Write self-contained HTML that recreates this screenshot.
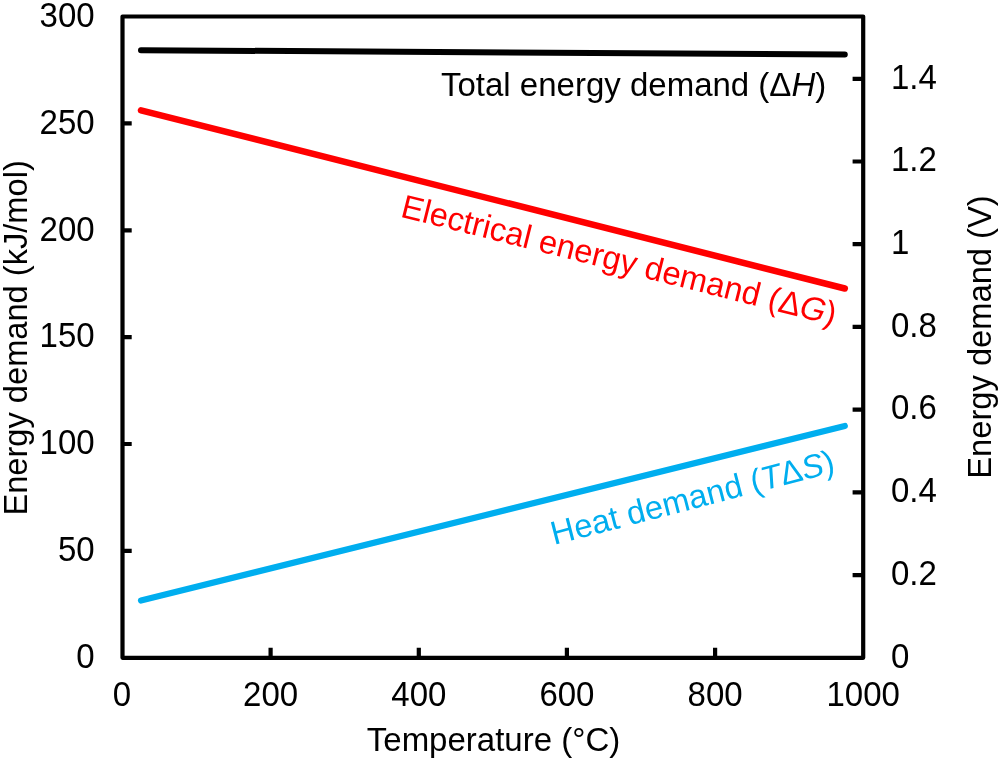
<!DOCTYPE html>
<html lang="en">
<head>
<meta charset="utf-8">
<title>Energy demand vs temperature</title>
<style>
html,body{margin:0;padding:0;background:#fff;}
body{width:1000px;height:759px;overflow:hidden;}
svg{display:block;}
text{font-family:"Liberation Sans",Arial,sans-serif;font-size:33px;fill:#000;}
.i{font-style:italic;}
.r{fill:#ff0000;}
.b{fill:#00aeef;}
</style>
</head>
<body>
<svg width="1000" height="759" viewBox="0 0 1000 759">
<rect width="1000" height="759" fill="#fff"/>
<!-- frame -->
<rect x="122.5" y="16.5" width="740.7" height="641.3" fill="none" stroke="#000" stroke-width="4.2" stroke-linejoin="round"/>
<!-- ticks -->
<g stroke="#000" stroke-width="4.2" fill="none">
<path d="M122.5 550.9H131.7M122.5 444.0H131.7M122.5 337.1H131.7M122.5 230.3H131.7M122.5 123.4H131.7"/>
<path d="M270.6 657.8V647.8M418.8 657.8V647.8M566.9 657.8V647.8M715.1 657.8V647.8"/>
<path d="M863.2 575.1H852.6M863.2 492.4H852.6M863.2 409.6H852.6M863.2 326.9H852.6M863.2 244.2H852.6M863.2 161.5H852.6M863.2 78.8H852.6"/>
</g>
<!-- data lines -->
<g fill="none" stroke-linecap="round">
<path d="M141 50.2L844.8 54.4" stroke="#000" stroke-width="6"/>
<path d="M141 110.3L844.8 288.5" stroke="#ff0000" stroke-width="6.5"/>
<path d="M141 600.5Q492.9 512 844.8 426" stroke="#00aeef" stroke-width="6.2"/>
</g>
<!-- left tick labels -->
<text transform="translate(94.6 26.7) scale(1 1.04)" text-anchor="end">300</text>
<text transform="translate(94.6 133.6) scale(1 1.04)" text-anchor="end">250</text>
<text transform="translate(94.6 240.5) scale(1 1.04)" text-anchor="end">200</text>
<text transform="translate(94.6 347.3) scale(1 1.04)" text-anchor="end">150</text>
<text transform="translate(94.6 454.2) scale(1 1.04)" text-anchor="end">100</text>
<text transform="translate(94.6 561.1) scale(1 1.04)" text-anchor="end">50</text>
<text transform="translate(94.6 668.0) scale(1 1.04)" text-anchor="end">0</text>
<!-- bottom tick labels -->
<text transform="translate(122.0 706.4) scale(1 1.04)" text-anchor="middle">0</text>
<text transform="translate(270.6 706.4) scale(1 1.04)" text-anchor="middle">200</text>
<text transform="translate(418.8 706.4) scale(1 1.04)" text-anchor="middle">400</text>
<text transform="translate(566.9 706.4) scale(1 1.04)" text-anchor="middle">600</text>
<text transform="translate(715.1 706.4) scale(1 1.04)" text-anchor="middle">800</text>
<text transform="translate(863.2 706.4) scale(1 1.04)" text-anchor="middle">1000</text>
<!-- right tick labels -->
<text transform="translate(891.0 667.5) scale(1 1.04)">0</text>
<text transform="translate(891.0 584.8) scale(1 1.04)">0.2</text>
<text transform="translate(891.0 502.1) scale(1 1.04)">0.4</text>
<text transform="translate(891.0 419.3) scale(1 1.04)">0.6</text>
<text transform="translate(891.0 336.6) scale(1 1.04)">0.8</text>
<text transform="translate(891.0 253.9) scale(1 1.04)">1</text>
<text transform="translate(891.0 171.2) scale(1 1.04)">1.2</text>
<text transform="translate(891.0 88.5) scale(1 1.04)">1.4</text>
<!-- axis titles -->
<text id="xt" x="493.5" y="750.5" text-anchor="middle">Temperature (°C)</text>
<text id="yl" transform="translate(26.5 337.9) rotate(-90) scale(0.989 1)" text-anchor="middle">Energy demand (kJ/mol)</text>
<text id="yr" transform="translate(991.3 337.05) rotate(-90) scale(0.991 1)" text-anchor="middle">Energy demand (V)</text>
<!-- series labels -->
<text id="tk" x="441" y="95.8">Total energy demand (Δ<tspan class="i">H</tspan>)</text>
<text id="tr" class="r" transform="translate(399.6 216.4) rotate(14.1) scale(0.991 1)">Electrical energy demand (Δ<tspan class="i">G</tspan>)</text>
<text id="tb" class="b" transform="translate(554 545) rotate(-14.55) scale(0.994 1)">Heat demand (<tspan class="i">T</tspan>Δ<tspan class="i">S</tspan>)</text>
</svg>
</body>
</html>
